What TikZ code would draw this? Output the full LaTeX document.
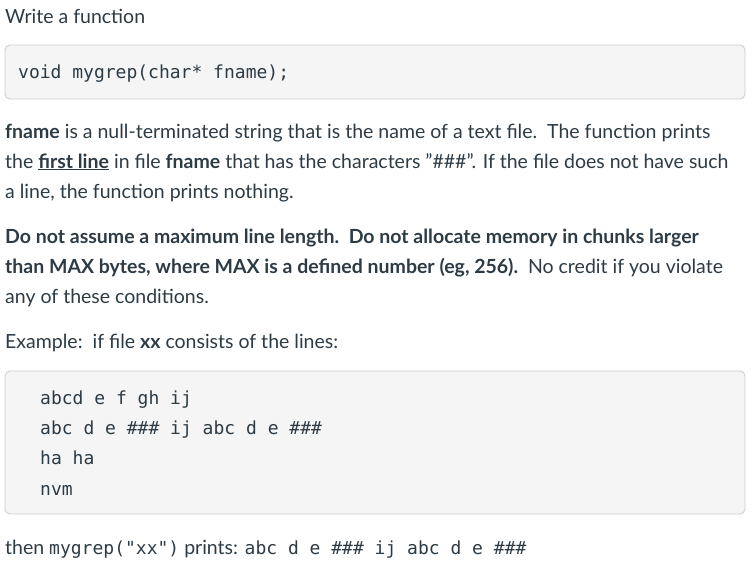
\documentclass[tikz,border=0pt]{standalone}
\usepackage{fontspec}
\setmainfont{Lato}
\setmonofont{DejaVu Sans Mono}
\definecolor{txt}{HTML}{2D3B45}
\definecolor{codebg}{HTML}{F5F5F5}
\definecolor{codeborder}{HTML}{C7CDD1}
\newcommand{\myul}[1]{\underline{#1}}
\newcommand{\dq}{\char"22\relax}
\begin{document}
\begin{tikzpicture}[x=1pt,y=-1pt,
  line/.style={anchor=base west,inner sep=0pt,text=txt,font=\fontsize{19.5}{22}\selectfont},
  codeline/.style={anchor=base west,inner sep=0pt,text=txt,font=\ttfamily\fontsize{18}{20}\selectfont},
  codebox/.style={draw=codeborder,fill=codebg,rounded corners=5pt,line width=0.8pt}]
\useasboundingbox (0,0) rectangle (755,579);
\node[line] (t0) at (5,23) {Write a function};
\draw[codebox] (5,45) rectangle (745,99);
\node[codeline] (c0) at (18,78) {void mygrep(char* fname);};
\node[line] (p1) at (5,138) {\textbf{fname} is a null-terminated string that is the name of a text file.\ \ The function prints};
\node[line] (p2) at (5,168) {the \textbf{\myul{first line}} in file \textbf{fname} that has the characters \dq\#\#\#\dq. If the file does not have such};
\node[line] (p3) at (5,198) {a line, the function prints nothing.};
\node[line] (q1) at (5,243) {\textbf{Do not assume a maximum line length.\ \ Do not allocate memory in chunks larger}};
\node[line] (q2) at (5,273) {\textbf{than MAX bytes, where MAX is a defined number (eg, 256).}\ \ No credit if you violate};
\node[line] (q3) at (5,303) {any of these conditions.};
\node[line] (e1) at (5,348) {Example:\ \ if file \textbf{xx} consists of the lines:};
\draw[codebox] (5,371) rectangle (745,514);
\node[codeline] (d1) at (40,404) {abcd e f gh ij};
\node[codeline] (d2) at (40,434) {abc d e \#\#\# ij abc d e \#\#\#};
\node[codeline] (d3) at (40,464) {ha ha};
\node[codeline] (d4) at (40,495) {nvm};
\node[line] (l1) at (5,554) {then {\ttfamily\fontsize{18}{20}\selectfont mygrep(\dq xx\dq)} prints: {\ttfamily\fontsize{18}{20}\selectfont abc d e \#\#\# ij abc d e \#\#\#}};
\end{tikzpicture}
\end{document}
